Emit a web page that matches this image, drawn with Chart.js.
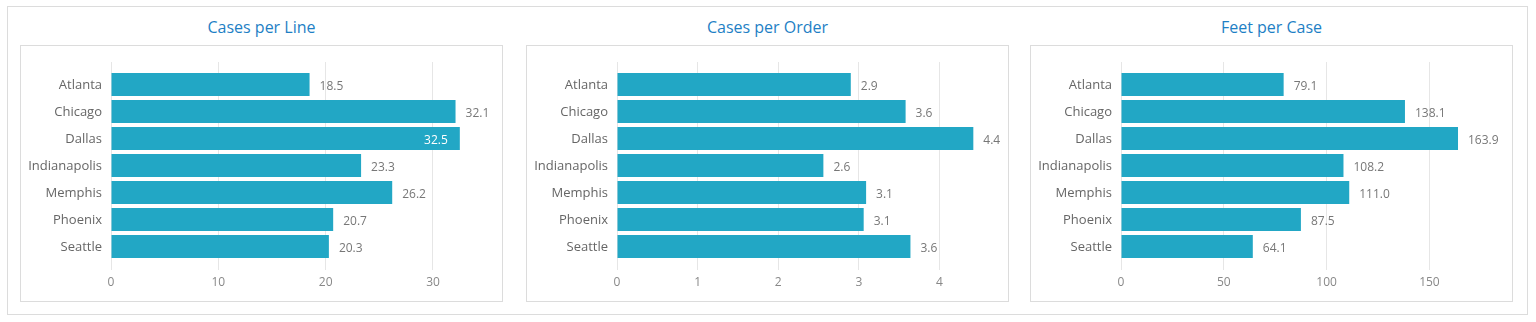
<!DOCTYPE html>
<html>
<head>
<meta charset="utf-8">
<script src="https://cdn.jsdelivr.net/npm/chart.js@4/dist/chart.umd.min.js"></script>
<style>
  body { margin: 0; background: #fff; font-family: "Open Sans", sans-serif; }
  .outer { position: absolute; left: 7px; top: 6px; width: 1519px; height: 307px; border: 1px solid #dcdcdc; }
  .title { position: absolute; top: 17px; width: 483px; height: 20px; line-height: 20px; text-align: center;
           font-size: 16px; color: #1e7fc5; }
  .panel { position: absolute; top: 45px; width: 481px; height: 255px; border: 1px solid #dcdcdc; }
  .panel canvas { position: absolute; left: 0; top: 0; }
</style>
</head>
<body>
<div class="outer"></div>
<div class="title" style="left:20px">Cases per Line</div>
<div class="title" style="left:526px">Cases per Order</div>
<div class="title" style="left:1030px">Feet per Case</div>
<div class="panel" style="left:20px"><canvas id="g1" width="481" height="255"></canvas></div>
<div class="panel" style="left:526px"><canvas id="g2" width="481" height="255"></canvas></div>
<div class="panel" style="left:1030px"><canvas id="g3" width="481" height="255"></canvas></div>
<script>
const cidades = ["Atlanta", "Chicago", "Dallas", "Indianapolis", "Memphis", "Phoenix", "Seattle"]

const casesPerLine = [18.5, 32.1, 32.5, 23.3, 26.2, 20.7, 20.3]
const casesPerOrder = [2.9, 3.58, 4.42, 2.56, 3.09, 3.06, 3.64]
const feetPerCase = [79.1, 138.1, 163.9, 108.2, 111.0, 87.5, 64.1]

const ticksLine = [0, 10, 20, 30]
const ticksOrder = [0, 1, 2, 3, 4]
const ticksFeet = [0, 50, 100, 150]

const maxLine = 34.1
const maxOrder = 4.54
const maxFeet = 178

const corBarra = "#22a7c5"
const corGrelha = "#e6e6e6"

Chart.defaults.font.family = '"Open Sans", sans-serif'

// desenha o valor ao lado de cada barra (ou dentro, na maior, se pedido)
const rotulos = {
    id: "rotulos",
    afterDatasetsDraw(chart, args, opts) {
        const ctx = chart.ctx
        const meta = chart.getDatasetMeta(0)
        const valores = chart.data.datasets[0].data
        const maior = Math.max(...valores)
        ctx.save()
        ctx.font = '12px "Open Sans", sans-serif'
        ctx.textBaseline = "middle"
        meta.data.forEach((barra, i) => {
            const txt = valores[i].toFixed(1)
            if (opts.dentro && valores[i] === maior) {
                ctx.fillStyle = "#ffffff"
                ctx.textAlign = "right"
                ctx.fillText(txt, barra.x - 12, barra.y + 2)
            } else {
                ctx.fillStyle = "#777777"
                ctx.textAlign = "left"
                ctx.fillText(txt, barra.x + 10, barra.y + 2)
            }
        })
        ctx.restore()
    }
}

function criar_grafico(id, valores, ticks, max, dentro) {
    const usarTicks = (scale) => {
        scale.ticks = ticks.map(v => ({ value: v }))
    }
    const config = {
        type: "bar",
        data: {
            labels: cidades,
            datasets: [{
                data: valores,
                backgroundColor: corBarra,
                borderWidth: 0,
                barPercentage: 0.85,
                categoryPercentage: 1,
            }]
        },
        options: {
            indexAxis: "y",
            responsive: false,
            animation: false,
            layout: { padding: { top: 16, right: 25, bottom: 0, left: 0 } },
            plugins: {
                legend: { display: false },
                tooltip: { enabled: false },
                rotulos: { dentro: dentro },
            },
            scales: {
                y: {
                    grid: { display: false, drawTicks: false },
                    border: { display: false },
                    ticks: { color: "#666666", font: { size: 13 }, padding: 9, labelOffset: 1 },
                    afterFit: (s) => { s.width = 90 },
                },
                x: {
                    min: 0,
                    max: max,
                    afterBuildTicks: usarTicks,
                    grid: { color: corGrelha, tickColor: corGrelha, tickLength: 10 },
                    border: { display: false },
                    ticks: { color: "#888888", font: { size: 12 }, padding: 5 },
                    afterFit: (s) => { s.height = 41 },
                },
                xt: {
                    type: "linear",
                    axis: "x",
                    position: "top",
                    min: 0,
                    max: max,
                    afterBuildTicks: usarTicks,
                    grid: { color: corGrelha, tickColor: corGrelha, tickLength: 9, drawOnChartArea: false },
                    border: { display: false },
                    ticks: { display: false },
                    afterFit: (s) => { s.height = 9 },
                },
            }
        },
        plugins: [rotulos]
    }
    return new Chart(document.getElementById(id), config)
}

criar_grafico("g1", casesPerLine, ticksLine, maxLine, true)
criar_grafico("g2", casesPerOrder, ticksOrder, maxOrder, false)
criar_grafico("g3", feetPerCase, ticksFeet, maxFeet, false)
</script>
</body>
</html>
